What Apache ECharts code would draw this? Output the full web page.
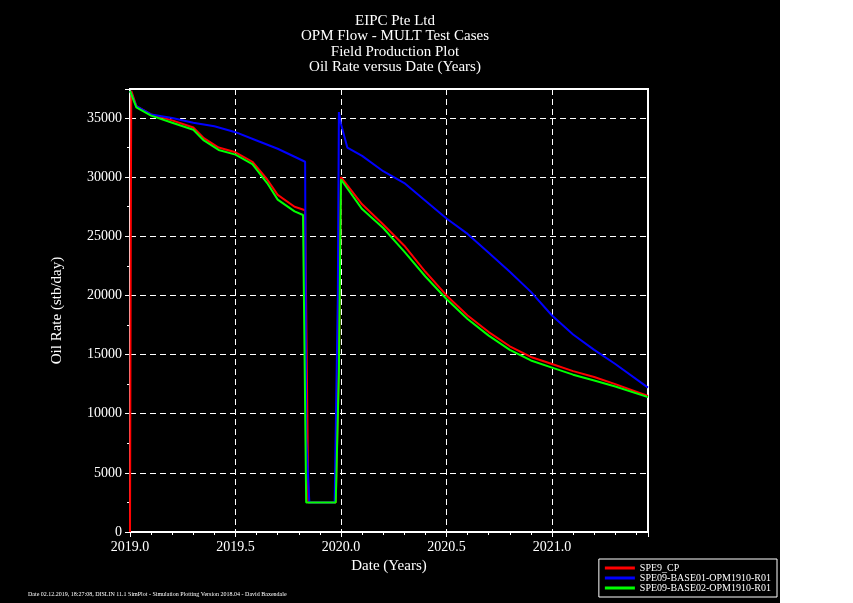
<!DOCTYPE html>
<html>
<head>
<meta charset="utf-8">
<script src="https://cdn.jsdelivr.net/npm/echarts@6/dist/echarts.min.js"></script>
<style>html,body{margin:0;background:#000}#c{width:853px;height:603px}</style>
</head>
<body>
<div id="c"></div>
<script>
var titles = ["EIPC Pte Ltd", "OPM Flow - MULT Test Cases", "Field Production Plot", "Oil Rate versus Date (Years)"];
var names = ["SPE9_CP", "SPE09-BASE01-OPM1910-R01", "SPE09-BASE02-OPM1910-R01"];
var colors = ["#ff0000", "#0000ff", "#00ff00"];

// [year, oil rate]
var red = [[2019.0,0],[2019.004,27500],[2019.006,37300],[2019.03,36000],[2019.1,35300],[2019.2,34800],[2019.3,34200],
  [2019.35,33300],[2019.42,32500],[2019.5,32100],[2019.58,31300],[2019.65,29800],[2019.7,28500],[2019.78,27500],
  [2019.83,27200],[2019.845,2500],[2019.975,2500],[2019.99,14000],[2020.0,30000],[2020.1,27700],[2020.2,26000],
  [2020.3,24200],[2020.4,22000],[2020.5,20000],[2020.6,18300],[2020.7,16900],[2020.8,15700],[2020.9,14800],
  [2021.0,14200],[2021.1,13600],[2021.2,13100],[2021.3,12500],[2021.455,11500]];
var blue = [[2019.0,37300],[2019.03,36000],[2019.1,35300],[2019.2,35000],[2019.3,34600],[2019.4,34300],
  [2019.5,33800],[2019.6,33100],[2019.7,32400],[2019.83,31300],[2019.835,8000],[2019.85,2500],[2019.97,2500],
  [2019.985,20000],[2019.99,35500],[2020.0,34500],[2020.03,32500],[2020.1,31800],[2020.2,30500],[2020.3,29500],
  [2020.4,28000],[2020.5,26500],[2020.6,25200],[2020.7,23600],[2020.8,22000],[2020.9,20300],[2021.0,18300],
  [2021.1,16700],[2021.2,15400],[2021.3,14200],[2021.455,12200]];
var green = [[2019.0,37300],[2019.03,35900],[2019.1,35200],[2019.2,34600],[2019.3,34000],[2019.35,33100],
  [2019.42,32300],[2019.5,31900],[2019.58,31100],[2019.65,29500],[2019.7,28100],[2019.78,27100],[2019.82,26800],
  [2019.835,2500],[2019.975,2500],[2019.99,13500],[2020.0,29800],[2020.1,27300],[2020.2,25700],[2020.3,23700],
  [2020.4,21600],[2020.5,19700],[2020.6,18000],[2020.7,16600],[2020.8,15400],[2020.9,14500],[2021.0,13900],
  [2021.1,13300],[2021.2,12800],[2021.3,12300],[2021.455,11400]];
var seriesData = [red, blue, green];

var font = "Liberation Serif";
var myChart = echarts.init(document.getElementById("c"));
var option = {
  backgroundColor: "#000",
  animation: false,
  title: {
    text: titles.join("\n"), left: 390, top: 8, textAlign: "center",
    textStyle: { color: "#fff", fontFamily: font, fontSize: 15, fontWeight: "normal", lineHeight: 15.5 }
  },
  legend: {
    orient: "vertical", right: 76, bottom: 6, padding: [4, 6],
    borderColor: "#fff", borderWidth: 1, itemGap: 0, itemWidth: 30, itemHeight: 3,
    icon: "rect", textStyle: { color: "#fff", fontFamily: font, fontSize: 10 },
    data: names
  },
  grid: { left: 130, right: 205, top: 89, bottom: 71 },
  xAxis: {
    type: "value", min: 2019, max: 2021.455, interval: 0.5,
    name: "Date (Years)", nameLocation: "middle", nameGap: 26,
    nameTextStyle: { color: "#fff", fontFamily: font, fontSize: 15 },
    axisLine: { lineStyle: { color: "#fff", width: 2 } },
    axisTick: { lineStyle: { color: "#fff" } },
    minorTick: { show: true, splitNumber: 5, lineStyle: { color: "#fff" } },
    axisLabel: { color: "#fff", fontFamily: font, fontSize: 14, showMaxLabel: false,
      formatter: function (v) { return v.toFixed(1); } },
    splitLine: { lineStyle: { color: "#fff", type: [6, 4] } }
  },
  yAxis: {
    type: "value", min: 0, max: 37450, interval: 5000,
    name: "Oil Rate (stb/day)", nameLocation: "middle", nameGap: 65,
    nameTextStyle: { color: "#fff", fontFamily: font, fontSize: 15 },
    axisLine: { show: true, lineStyle: { color: "#fff", width: 2 } },
    axisTick: { lineStyle: { color: "#fff" } },
    minorTick: { show: true, splitNumber: 2, lineStyle: { color: "#fff" } },
    axisLabel: { color: "#fff", fontFamily: font, fontSize: 14, showMaxLabel: false,
      formatter: function (v) { return String(v); } },
    splitLine: { lineStyle: { color: "#fff", type: [6, 4] } }
  },
  graphic: [
    { type: "rect", shape: { x: 130, y: 89, width: 518, height: 443 }, style: { fill: null, stroke: "#fff", lineWidth: 2 }, silent: true },
    { type: "rect", left: 780, top: 0, shape: { width: 73, height: 603 }, style: { fill: "#fff" } },
    { type: "text", left: 28, top: 591, style: { text: "Date 02.12.2019, 18:27:08, DISLIN 11.1 SimPlot - Simulation Plotting Version 2018.04 - David Baxendale",
      fill: "#fff", font: "6px " + font } }
  ],
  series: names.map(function (n, i) {
    return { name: n, type: "line", data: seriesData[i], showSymbol: false,
      lineStyle: { width: 2, color: colors[i] }, itemStyle: { color: colors[i] }, z: 2 + i };
  })
};
myChart.setOption(option);
</script>
</body>
</html>
